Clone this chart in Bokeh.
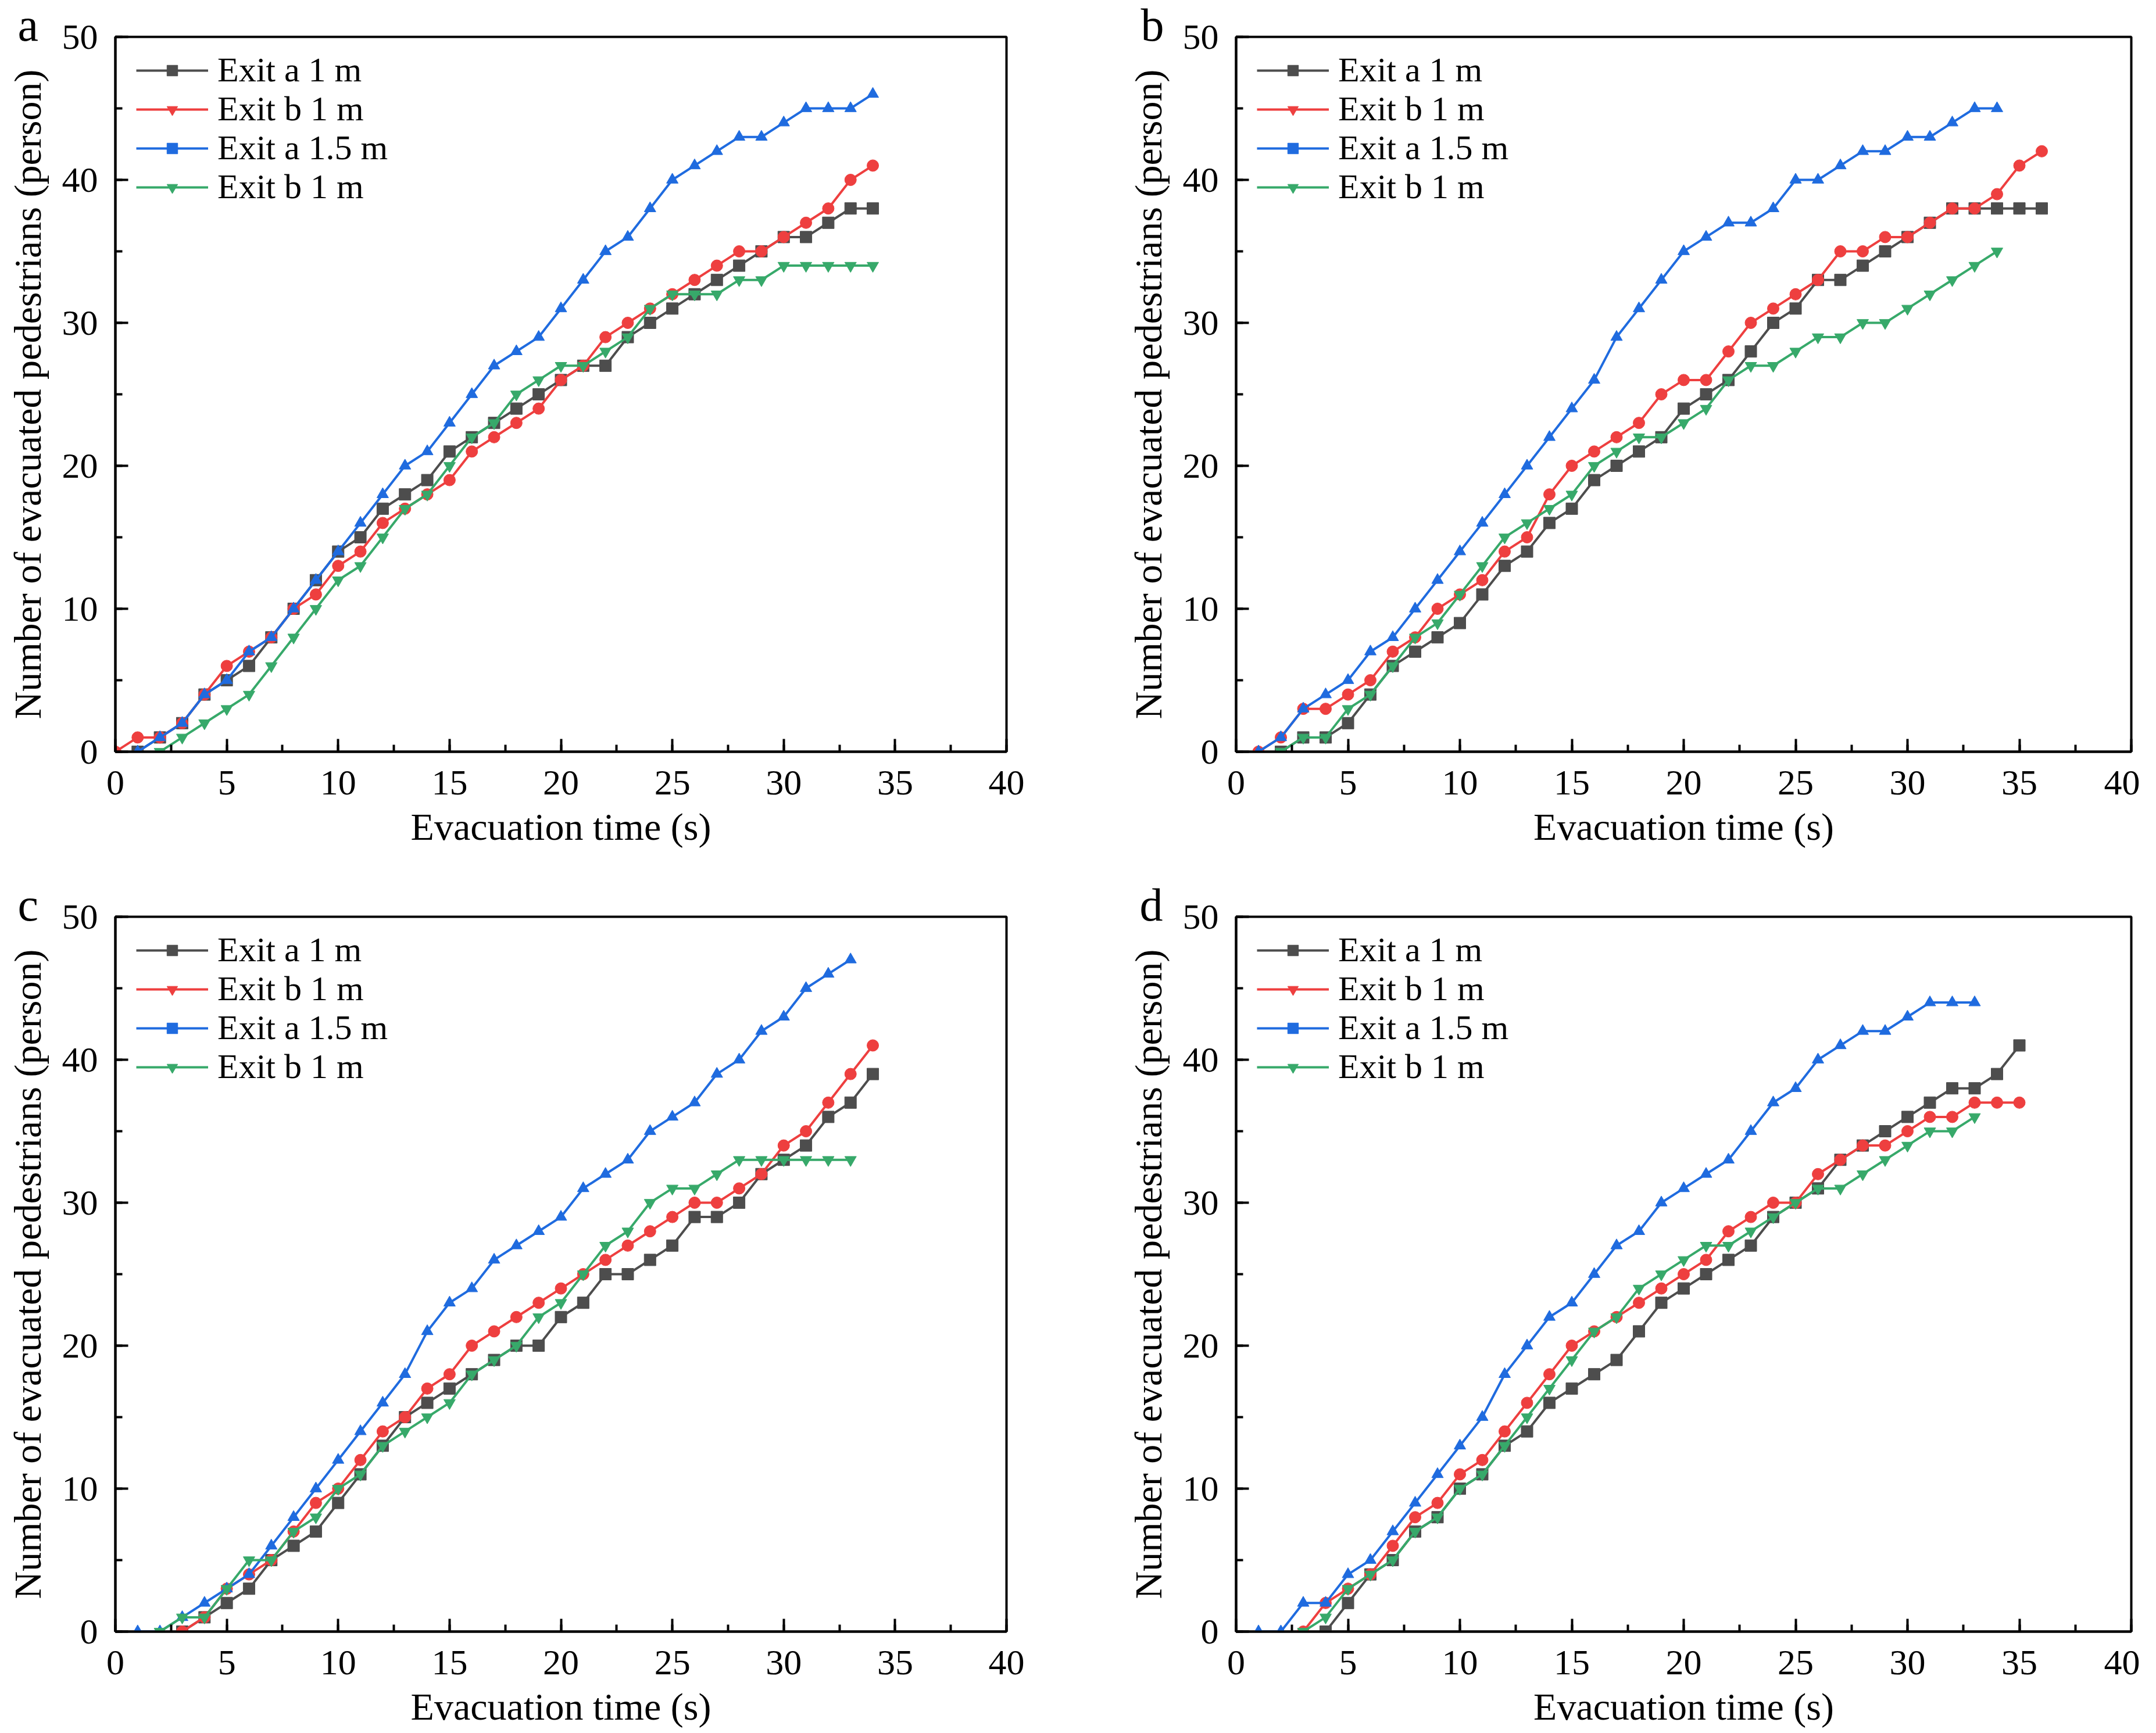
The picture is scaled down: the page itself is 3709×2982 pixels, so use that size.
from bokeh.plotting import figure
from bokeh.layouts import column, row
from bokeh.models import Legend, LegendItem, Range1d, SingleIntervalTicker
from bokeh.embed import file_html
from bokeh.resources import INLINE

FONT = "Liberation Serif"

# ---- data -------------------------------------------------------------
SERIES_NAMES = ["Exit a 1 m", "Exit b 1 m", "Exit a 1.5 m", "Exit b 1 m"]
COLORS = ["#4D4D4D", "#EE3F3F", "#1F6BDF", "#37A96A"]
PLOT_MARKERS = ["square", "circle", "triangle", "inverted_triangle"]
LEGEND_MARKERS = ["square", "inverted_triangle", "square", "inverted_triangle"]
PANEL_LETTERS = ["a", "b", "c", "d"]
X_AXIS_TITLE = "Evacuation time (s)"
Y_AXIS_TITLE = "Number of evacuated pedestrians (person)"

# each series: first time (s) and counts for consecutive seconds
A_EXIT_A_1M_T0 = 1
A_EXIT_A_1M = [0, 1, 2, 4, 5, 6, 8, 10, 12, 14, 15, 17, 18, 19, 21, 22, 23, 24, 25, 26,
               27, 27, 29, 30, 31, 32, 33, 34, 35, 36, 36, 37, 38, 38]
A_EXIT_B_1M_T0 = 0
A_EXIT_B_1M = [0, 1, 1, 2, 4, 6, 7, 8, 10, 11, 13, 14, 16, 17, 18, 19, 21, 22, 23, 24,
               26, 27, 29, 30, 31, 32, 33, 34, 35, 35, 36, 37, 38, 40, 41]
A_EXIT_A_15M_T0 = 1
A_EXIT_A_15M = [0, 1, 2, 4, 5, 7, 8, 10, 12, 14, 16, 18, 20, 21, 23, 25, 27, 28, 29, 31,
                33, 35, 36, 38, 40, 41, 42, 43, 43, 44, 45, 45, 45, 46]
A_EXIT_B_1M_2_T0 = 2
A_EXIT_B_1M_2 = [0, 1, 2, 3, 4, 6, 8, 10, 12, 13, 15, 17, 18, 20, 22, 23, 25, 26, 27, 27,
                 28, 29, 31, 32, 32, 32, 33, 33, 34, 34, 34, 34, 34]

B_EXIT_A_1M_T0 = 2
B_EXIT_A_1M = [0, 1, 1, 2, 4, 6, 7, 8, 9, 11, 13, 14, 16, 17, 19, 20, 21, 22, 24, 25,
               26, 28, 30, 31, 33, 33, 34, 35, 36, 37, 38, 38, 38, 38, 38]
B_EXIT_B_1M_T0 = 1
B_EXIT_B_1M = [0, 1, 3, 3, 4, 5, 7, 8, 10, 11, 12, 14, 15, 18, 20, 21, 22, 23, 25, 26,
               26, 28, 30, 31, 32, 33, 35, 35, 36, 36, 37, 38, 38, 39, 41, 42]
B_EXIT_A_15M_T0 = 1
B_EXIT_A_15M = [0, 1, 3, 4, 5, 7, 8, 10, 12, 14, 16, 18, 20, 22, 24, 26, 29, 31, 33, 35,
                36, 37, 37, 38, 40, 40, 41, 42, 42, 43, 43, 44, 45, 45]
B_EXIT_B_1M_2_T0 = 2
B_EXIT_B_1M_2 = [0, 1, 1, 3, 4, 6, 8, 9, 11, 13, 15, 16, 17, 18, 20, 21, 22, 22, 23, 24,
                 26, 27, 27, 28, 29, 29, 30, 30, 31, 32, 33, 34, 35]

C_EXIT_A_1M_T0 = 3
C_EXIT_A_1M = [0, 1, 2, 3, 5, 6, 7, 9, 11, 13, 15, 16, 17, 18, 19, 20, 20, 22, 23, 25,
               25, 26, 27, 29, 29, 30, 32, 33, 34, 36, 37, 39]
C_EXIT_B_1M_T0 = 3
C_EXIT_B_1M = [0, 1, 3, 4, 5, 7, 9, 10, 12, 14, 15, 17, 18, 20, 21, 22, 23, 24, 25, 26,
               27, 28, 29, 30, 30, 31, 32, 34, 35, 37, 39, 41]
C_EXIT_A_15M_T0 = 1
C_EXIT_A_15M = [0, 0, 1, 2, 3, 4, 6, 8, 10, 12, 14, 16, 18, 21, 23, 24, 26, 27, 28, 29,
                31, 32, 33, 35, 36, 37, 39, 40, 42, 43, 45, 46, 47]
C_EXIT_B_1M_2_T0 = 2
C_EXIT_B_1M_2 = [0, 1, 1, 3, 5, 5, 7, 8, 10, 11, 13, 14, 15, 16, 18, 19, 20, 22, 23, 25,
                 27, 28, 30, 31, 31, 32, 33, 33, 33, 33, 33, 33]

D_EXIT_A_1M_T0 = 4
D_EXIT_A_1M = [0, 2, 4, 5, 7, 8, 10, 11, 13, 14, 16, 17, 18, 19, 21, 23, 24, 25, 26, 27,
               29, 30, 31, 33, 34, 35, 36, 37, 38, 38, 39, 41]
D_EXIT_B_1M_T0 = 3
D_EXIT_B_1M = [0, 2, 3, 4, 6, 8, 9, 11, 12, 14, 16, 18, 20, 21, 22, 23, 24, 25, 26, 28,
               29, 30, 30, 32, 33, 34, 34, 35, 36, 36, 37, 37, 37]
D_EXIT_A_15M_T0 = 1
D_EXIT_A_15M = [0, 0, 2, 2, 4, 5, 7, 9, 11, 13, 15, 18, 20, 22, 23, 25, 27, 28, 30, 31,
                32, 33, 35, 37, 38, 40, 41, 42, 42, 43, 44, 44, 44]
D_EXIT_B_1M_2_T0 = 3
D_EXIT_B_1M_2 = [0, 1, 3, 4, 5, 7, 8, 10, 11, 13, 15, 17, 19, 21, 22, 24, 25, 26, 27, 27,
                 28, 29, 30, 31, 31, 32, 33, 34, 35, 35, 36]

PANELS = [
    [(A_EXIT_A_1M_T0, A_EXIT_A_1M), (A_EXIT_B_1M_T0, A_EXIT_B_1M),
     (A_EXIT_A_15M_T0, A_EXIT_A_15M), (A_EXIT_B_1M_2_T0, A_EXIT_B_1M_2)],
    [(B_EXIT_A_1M_T0, B_EXIT_A_1M), (B_EXIT_B_1M_T0, B_EXIT_B_1M),
     (B_EXIT_A_15M_T0, B_EXIT_A_15M), (B_EXIT_B_1M_2_T0, B_EXIT_B_1M_2)],
    [(C_EXIT_A_1M_T0, C_EXIT_A_1M), (C_EXIT_B_1M_T0, C_EXIT_B_1M),
     (C_EXIT_A_15M_T0, C_EXIT_A_15M), (C_EXIT_B_1M_2_T0, C_EXIT_B_1M_2)],
    [(D_EXIT_A_1M_T0, D_EXIT_A_1M), (D_EXIT_B_1M_T0, D_EXIT_B_1M),
     (D_EXIT_A_15M_T0, D_EXIT_A_15M), (D_EXIT_B_1M_2_T0, D_EXIT_B_1M_2)],
]

X_MIN, X_MAX, X_STEP = 0, 40, 5
Y_MIN, Y_MAX, Y_STEP = 0, 50, 10
NAN = float("nan")

# legend layout (screen px)
LEG_LEFT = 36          # from frame left to legend glyph
LEG_FIRST_ROW = 57     # from frame top to first row centre
LEG_ROW_STEP = 67      # distance between rows
LEG_ROW_H = 70         # approximate bokeh row box height
LEG_FONT = "60px"


def make_panel(idx, bl, br, bt, bb, frame_w, frame_h, letter_offset):
    width = bl + frame_w + br
    height = bt + frame_h + bb
    p = figure(width=width, height=height, output_backend="svg", toolbar_location=None,
               x_range=Range1d(X_MIN, X_MAX), y_range=Range1d(Y_MIN, Y_MAX),
               min_border_left=bl, min_border_right=br, min_border_top=bt,
               min_border_bottom=bb)
    p.background_fill_color = "white"
    p.border_fill_color = "white"
    p.xgrid.visible = False
    p.ygrid.visible = False
    p.outline_line_color = "black"
    p.outline_line_width = 4
    p.outline_line_alpha = 1

    # panel letter as a left-aligned title shifted over the y-axis area
    p.title.text = PANEL_LETTERS[idx]
    p.title.align = "left"
    p.title.offset = letter_offset
    p.title.text_font = FONT
    p.title.text_font_size = "80px"
    p.title.text_font_style = "normal"
    p.title.text_color = "black"
    try:
        p.title.standoff = -46
    except Exception:
        p.title.standoff = 0

    p.xaxis.ticker = SingleIntervalTicker(interval=X_STEP, num_minor_ticks=2)
    p.yaxis.ticker = SingleIntervalTicker(interval=Y_STEP, num_minor_ticks=2)
    for ax in (p.xaxis[0], p.yaxis[0]):
        ax.axis_line_width = 4
        ax.axis_line_color = "black"
        ax.major_tick_in = 22
        ax.major_tick_out = 0
        ax.minor_tick_in = 12
        ax.minor_tick_out = 0
        ax.major_tick_line_width = 4
        ax.minor_tick_line_width = 4
        ax.major_tick_line_color = "black"
        ax.minor_tick_line_color = "black"
        ax.major_label_text_font = FONT
        ax.major_label_text_font_size = "62px"
        ax.major_label_text_color = "black"
        ax.axis_label_text_font = FONT
        ax.axis_label_text_font_size = "66px"
        ax.axis_label_text_font_style = "normal"
        ax.axis_label_text_color = "black"
    p.xaxis.axis_label = X_AXIS_TITLE
    p.yaxis.axis_label = Y_AXIS_TITLE
    p.xaxis.major_label_standoff = 33
    p.xaxis.axis_label_standoff = 16
    p.yaxis.major_label_standoff = 30
    p.yaxis.axis_label_standoff = 20

    for k, (t0, vals) in enumerate(PANELS[idx]):
        xs = list(range(t0, t0 + len(vals)))
        lr = p.line(xs, vals, line_color=COLORS[k], line_width=4)
        p.scatter(xs, vals, marker=PLOT_MARKERS[k], size=20, fill_color=COLORS[k],
                  line_color=COLORS[k])
        # legend-only marker (the source's legend shows its own marker shapes)
        dummy = p.scatter(x=[NAN], y=[NAN], marker=LEGEND_MARKERS[k], size=18,
                          fill_color=COLORS[k], line_color=COLORS[k])
        item = LegendItem(label=SERIES_NAMES[k], renderers=[lr, dummy])
        row_centre_from_bottom = frame_h - (LEG_FIRST_ROW + k * LEG_ROW_STEP)
        vy = row_centre_from_bottom - LEG_ROW_H / 2
        legend = Legend(items=[item], location=(LEG_LEFT, vy),
                        label_text_font=FONT, label_text_font_size=LEG_FONT,
                        label_text_color="black",
                        glyph_width=124, glyph_height=46, label_standoff=16,
                        spacing=0, padding=0, margin=0,
                        border_line_color=None, background_fill_alpha=0)
        p.add_layout(legend)
    return p


pa = make_panel(0, 198, 60, 63, 180, 1533, 1230, -168)
pb = make_panel(1, 335, 15, 63, 180, 1540, 1230, -164)
pc = make_panel(2, 198, 60, 104, 168, 1533, 1230, -168)
pd = make_panel(3, 335, 15, 104, 168, 1540, 1230, -166)

layout = column(row(pa, pb), row(pc, pd))

with open("out.html", "w") as f:
    f.write(file_html(layout, INLINE))
